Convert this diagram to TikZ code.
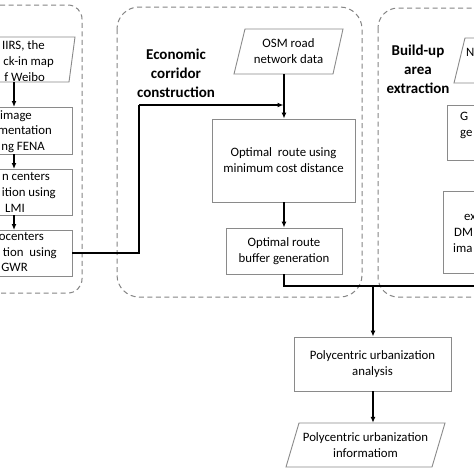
\documentclass[tikz,border=0pt]{standalone}
\usepackage{fontspec}
\setmainfont{Carlito}
\usetikzlibrary{arrows.meta}
\definecolor{boxgray}{HTML}{8A8A8A}
\definecolor{dashgray}{HTML}{858585}
\begin{document}
\begin{tikzpicture}[x=1pt,y=-1pt,
  boxline/.style={draw=boxgray, line width=0.9pt},
  grp/.style={draw=dashgray, line width=1pt, dash pattern=on 5pt off 3.5pt},
  txt/.style={font=\fontsize{12.8}{16}\selectfont, align=center, inner sep=0pt},
  frag/.style={font=\fontsize{12.8}{16}\selectfont, inner sep=0pt, text height=9pt, text depth=2.5pt},
  ttl/.style={font=\bfseries\fontsize{15}{19}\selectfont, align=center, inner sep=0pt},
  conn/.style={draw=black, line width=1.2pt},
  arr/.style={conn, -{Latex[length=6pt,width=5pt]}},
  stepbox/.style={boxline, rectangle, inner sep=0pt}
]
\useasboundingbox (0,0) rectangle (474,474);
\fill[white] (0,0) rectangle (474,474);
\clip (0,0) rectangle (474,474);

% groups
\draw[grp, rounded corners=14pt] (-20,5) rectangle (82,293);
\draw[grp, rounded corners=22pt] (117,7) rectangle (362,297);
\draw[grp, rounded corners=20pt] (378,8) rectangle (520,297);

% titles
\node[ttl] (t1) at (176,73) {Economic\\corridor\\construction};
\node[ttl] (t2) at (418,69) {Build-up\\area\\extraction};

% left column
\draw[boxline] (-40,37) -- (75,37) -- (69,82) -- (-46,82) -- cycle;
\node[inner sep=0pt, minimum width=100pt, minimum height=45pt] (p1) at (15,59.5) {};
\node[stepbox, minimum width=114pt, minimum height=47pt] (b2) at (15,130.5) {};
\node[stepbox, minimum width=114pt, minimum height=46pt] (b3) at (15,192) {};
\node[stepbox, minimum width=114pt, minimum height=46pt] (b4) at (15,253) {};

\node[frag, anchor=east] (f1) at (45,46) {IIRS, the};
\node[frag, anchor=east] (f2) at (54,62) {ck-in map};
\node[frag, anchor=east] (f3) at (45,78) {f Weibo};
\node[frag, anchor=east] (f4) at (32,116) {image};
\node[frag, anchor=east] (f5) at (52,131) {mentation};
\node[frag, anchor=east] (f6) at (45,147) {ng FENA};
\node[frag, anchor=east] (f7) at (50,177) {n centers};
\node[frag, anchor=east] (f8) at (56,193) {ition using};
\node[frag, anchor=east] (f9) at (25,209) {LMI};
\node[frag, anchor=east] (f10) at (44,237) {ocenters};
\node[frag, anchor=east] (f11) at (57,253) {tion\ \ using};
\node[frag, anchor=east] (f12) at (28,268) {GWR};

\coordinate (p1s) at (14,82);
\draw[arr] (p1s) -- (14,107);
\draw[arr] (14,154) -- (14,169);
\draw[arr] (14,215) -- (14,230);

% middle column
\draw[boxline] (245,29) -- (343,29) -- (333,74) -- (234,74) -- cycle;
\node[txt, minimum width=88pt, minimum height=45pt] (osm) at (288.5,51.5) {OSM road\\network data};
\node[stepbox, txt, minimum width=143pt, minimum height=83pt] (route) at (283.5,160.5) {Optimal\ \ route using\\minimum cost distance};
\node[stepbox, txt, minimum width=116pt, minimum height=46pt] (buf) at (284,251) {Optimal route\\buffer generation};

\draw[arr] (osm.south -| 284,0) -- (route.north -| 284,0);
\draw[arr] (route.south -| 284,0) -- (buf.north -| 284,0);

\coordinate (c1) at (139,253);
\coordinate (c2) at (139,105);
\coordinate (c3) at (283.5,105);
\draw[conn] (b4.east |- 0,253) -- (c1) -- (c2);
\draw[arr] (c2) -- (c3);

% right column
\draw[boxline] (465,38) -- (540,38) -- (530,83) -- (454,83) -- cycle;
\node[frag, anchor=west] (r1) at (466,53) {N};
\draw[boxline] (447,105) rectangle (530,160);
\node[frag, anchor=west] (r2) at (460,117) {G};
\node[frag, anchor=west] (r3) at (460,133) {ge};
\draw[boxline] (443,191) rectangle (530,273);
\node[frag, anchor=west] (r4) at (464,217) {ex};
\node[frag, anchor=west] (r5) at (454,233) {DM};
\node[frag, anchor=west] (r6) at (453,249) {ima};

% bottom
\node[stepbox, txt, minimum width=157pt, minimum height=54pt] (ana) at (372.5,364) {Polycentric urbanization\\analysis};
\draw[boxline] (299,423) -- (445,423) -- (432,467) -- (286,467) -- cycle;
\node[txt, minimum width=130pt, minimum height=44pt] (info) at (365.5,445) {Polycentric urbanization\\informatiom};

\coordinate (j1) at (284,286);
\coordinate (j2) at (373,286);
\coordinate (j3) at (480,286);
\draw[conn] (buf.south -| j1) -- (j1) -- (j3);
\draw[arr] (j2) -- (ana.north -| j2);
\draw[arr] (ana.south -| j2) -- (info.north -| j2);
\end{tikzpicture}
\end{document}
